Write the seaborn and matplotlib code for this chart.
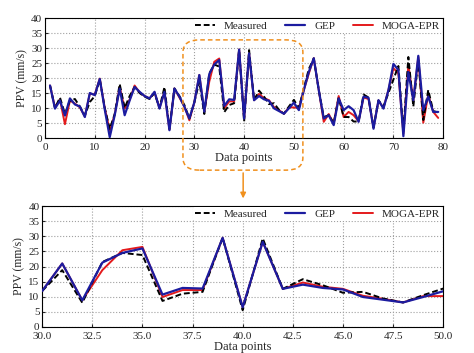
import numpy as np
import pandas as pd
import matplotlib
matplotlib.use("Agg")
import matplotlib.pyplot as plt
from matplotlib.patches import FancyBboxPatch, FancyArrowPatch
import seaborn as sns

# data (points 1..79)
points = list(range(1, 80))
measured = [17.5, 10, 13.5, 8, 12.5, 13, 10.5, 7.5, 12, 14,
            19.5, 10, 3, 8, 18, 10, 14, 17, 15, 13.8,
            13, 15, 10, 17, 3, 16.5, 14, 11, 6.5, 11.9,
            18.8, 8, 21.5, 24.5, 23.8, 8.6, 11, 11.6, 29.5, 5.5,
            29.3, 12.6, 15.8, 13.8, 11.3, 11.6, 9.4, 8.1, 10.5, 12.7,
            10, 16.5, 23, 26.5, 16, 7, 7.6, 5, 13.5, 7,
            7, 5.5, 5.5, 14.5, 13.5, 3.5, 12.5, 10.5, 15, 19.5,
            24, 2, 27, 10.5, 26, 6, 16, 9, 8.5]
gep = [17.5, 9.8, 12.5, 7.5, 13.2, 11.2, 10.5, 7, 15, 14.3,
       19.7, 9.5, 0.3, 7.6, 16.5, 7.6, 12.5, 17, 15.4, 14,
       13.2, 15.4, 9.8, 15.4, 2.6, 16.5, 13.8, 10.4, 6.5, 11.9,
       21, 8.8, 21.3, 24.5, 26, 10.7, 12.9, 12.7, 29.5, 6.5,
       28.2, 12.6, 14, 12.9, 12.4, 9.9, 9, 8.1, 9.9, 11.8,
       9.3, 16, 22, 26.6, 16, 6.5, 7.6, 4.3, 13.2, 9.3,
       10.6, 9.3, 5.4, 13.8, 13.4, 3.1, 12.6, 9.8, 16, 24.7,
       22.7, 0.6, 22, 12.6, 27.4, 9.3, 13.8, 8.7, 8.7]
moga = [17.5, 10.2, 12.8, 4.6, 12.5, 11.5, 10.2, 7.2, 14.8, 14.5,
        19.8, 10, 2.5, 7.8, 17, 9.8, 12.8, 17.5, 15.2, 14,
        13.2, 15.2, 10, 15.5, 2.8, 16.5, 13.5, 10.5, 5.9, 11.9,
        21, 8.8, 18.8, 25.4, 26.5, 9.9, 12.2, 12.2, 29.5, 6.5,
        28.2, 12.6, 14.7, 13.3, 12.6, 10.3, 9.3, 8.1, 10.2, 10.2,
        10, 16, 21.5, 26.6, 16, 5.4, 8, 4.8, 14, 7,
        8.7, 7.6, 5.6, 13.5, 13, 3.5, 12.5, 10, 16, 23.3,
        21.5, 1.5, 24.4, 12.5, 27, 5.1, 14.5, 8.7, 6.7]

df = pd.DataFrame({"point": points, "Measured": measured,
                   "GEP": gep, "MOGA-EPR": moga})

sns.set_style("ticks")
plt.rcParams['font.family'] = ['Liberation Serif', 'DejaVu Serif']
plt.rcParams['font.size'] = 8

fig = plt.figure(figsize=(4.74, 3.53), dpi=100)
ax1 = fig.add_axes([0.095, 0.609, 0.84, 0.340])
ax2 = fig.add_axes([0.089, 0.074, 0.846, 0.342])


def draw(ax, d):
    sns.lineplot(data=d, x="point", y="Measured", ax=ax, color="black",
                 linestyle=(0, (3, 1.5)), lw=1.4, label="Measured", zorder=3)
    sns.lineplot(data=d, x="point", y="MOGA-EPR", ax=ax, color="#e41a1c",
                 lw=1.4, label="MOGA-EPR", zorder=2)
    sns.lineplot(data=d, x="point", y="GEP", ax=ax, color="#1c1ca0",
                 lw=1.6, label="GEP", zorder=4)
    ax.set_ylim(0, 40)
    ax.set_yticks(range(0, 41, 5))
    ax.set_ylabel("PPV (mm/s)", fontsize=8.5, labelpad=2)
    ax.set_xlabel("Data points", fontsize=9, labelpad=0)
    ax.grid(True, linestyle=":", color="#a0a0a0", lw=0.8)
    ax.tick_params(direction="in", length=2, labelsize=8, pad=2)
    ax.tick_params(axis="x", pad=3.5)
    for s in ax.spines.values():
        s.set_color("black")
        s.set_linewidth(0.8)
    h, l = ax.get_legend_handles_labels()
    order = [l.index("Measured"), l.index("GEP"), l.index("MOGA-EPR")]
    ax.legend([h[i] for i in order], [l[i] for i in order], ncol=3,
              loc="upper right", fontsize=8, frameon=True, facecolor="white",
              edgecolor="none", framealpha=1, handlelength=1.8,
              columnspacing=1.6, borderpad=0.2, borderaxespad=0.1)


draw(ax1, df)
ax1.set_xlim(0, 80)
ax1.set_xticks(range(0, 81, 10))

draw(ax2, df[(df.point >= 30) & (df.point <= 50)])
ax2.set_xlim(30, 50)
ax2.set_xticks(np.arange(30, 50.1, 2.5))
ax2.set_xticklabels([f"{v:.1f}" for v in np.arange(30, 50.1, 2.5)])

# orange zoom box and arrow
box = FancyBboxPatch((0.386, 0.518), 0.253, 0.369, transform=fig.transFigure,
                     boxstyle="round,pad=0,rounding_size=0.035",
                     fill=False, edgecolor="#f0901e", linestyle=(0, (3, 2)),
                     lw=1.1, zorder=10)
fig.add_artist(box)
arrow = FancyArrowPatch((0.513, 0.518), (0.513, 0.43), transform=fig.transFigure,
                        arrowstyle="-|>", mutation_scale=8, color="#f0901e", lw=1.1)
fig.add_artist(arrow)

fig.savefig("out.png", dpi=100)
